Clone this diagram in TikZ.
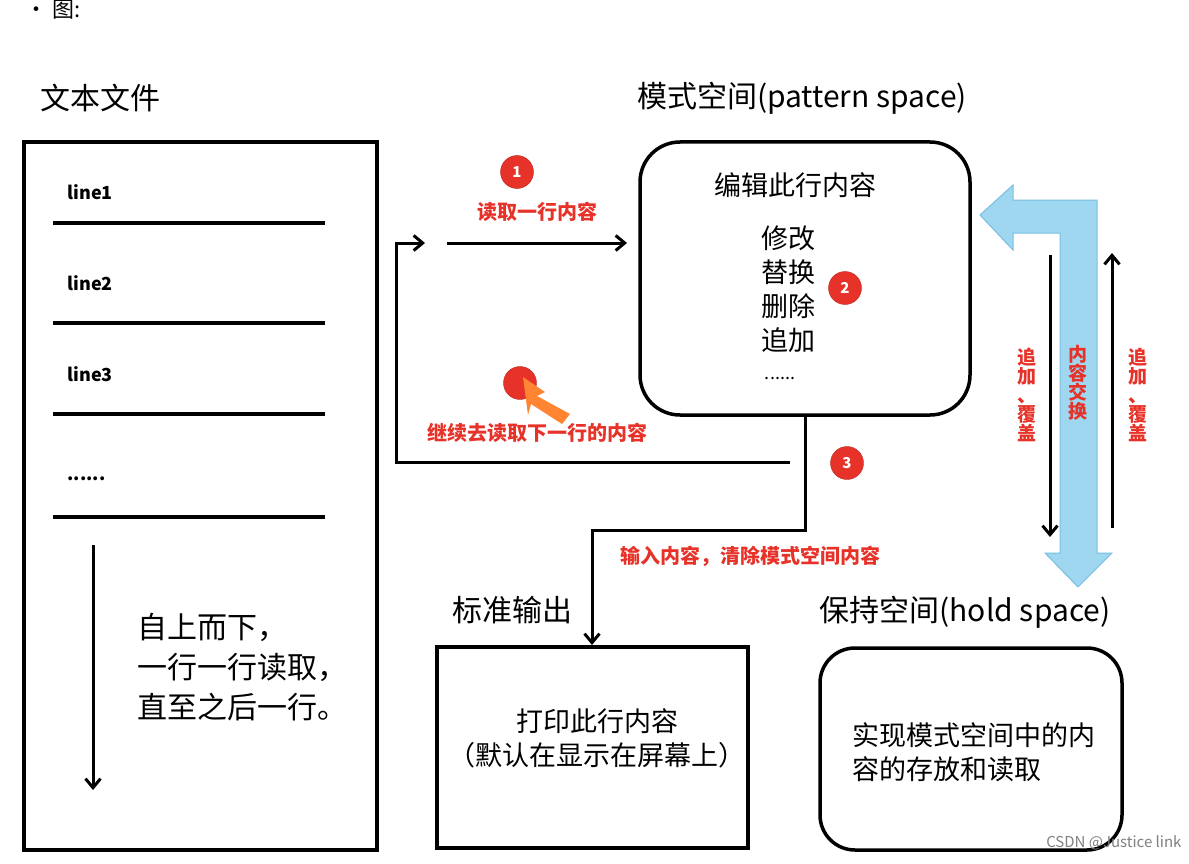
\documentclass[tikz,border=0pt]{standalone}
\usepackage{fontspec}
\setmainfont{Noto Sans CJK SC}
\usetikzlibrary{arrows.meta}
\definecolor{rd}{RGB}{230,50,40}
\definecolor{lb}{RGB}{160,215,240}
\definecolor{lbd}{RGB}{120,190,225}
\tikzset{
 blk/.style={line width=3.5pt},
 arr/.style={line width=3pt,-{Straight Barb[length=9pt,width=15pt]}},
 num/.style={circle,fill=rd,draw=rd!80!black,minimum size=33pt,inner sep=0pt,text=white,font=\fontsize{15}{15}\selectfont\bfseries},
 rtxt/.style={text=rd,font=\fontsize{20}{22}\selectfont\bfseries},
 vtxt/.style={text=rd,align=center,font=\fontsize{19}{19}\selectfont\bfseries},
 big/.style={font=\fontsize{30}{40}\selectfont},
 mid/.style={font=\fontsize{27}{34}\selectfont},
 ln/.style={font=\fontsize{18}{18}\selectfont\bfseries},
}
\begin{document}
\begin{tikzpicture}[x=1pt,y=-1pt]
\useasboundingbox (0,0) rectangle (1189,864);
\node[anchor=west,font=\fontsize{22}{22}\selectfont] (bul) at (22,10) {• 图:};
% left
\node[big] (t1) at (100,98) {文本文件};
\draw[blk] (24,142) rectangle (377,850);
\node[ln,anchor=west] (l1) at (64,192) {line1};
\node[ln,anchor=west] (l2) at (64,283) {line2};
\node[ln,anchor=west] (l3) at (64,374) {line3};
\node[ln,anchor=west] (l4) at (64,479) {......};
\foreach \y in {223,323,414,517} \draw[blk] (53,\y) -- (325,\y);
\coordinate (da) at (93,545); \coordinate (db) at (93,790);
\draw[arr] (da) -- (db);
\node[big,anchor=north west,align=left] (desc) at (134,610) {自上而下，\\一行一行读取，\\直至之后一行。};
% pattern
\node[big] (t2) at (802,98) {模式空间(pattern space)};
\draw[blk,rounded corners=40pt] (640,142) rectangle (970,415);
\node[mid] (ed) at (795,185) {编辑此行内容};
\node[mid,align=center] (ops) at (788,289) {修改\\替换\\删除\\追加};
\node[font=\fontsize{18}{18}\selectfont] (dots) at (780,378) {......};
\node[num] (n2) at (845,288) {2};
% read arrow
\node[num] (n1) at (517,172) {1};
\node[rtxt] (r1) at (537,212) {读取一行内容};
\coordinate (a1) at (447,243); \coordinate (a2) at (627,243);
\draw[arr] (a1) -- (a2);
\coordinate (lp0) at (790,462); \coordinate (lp1) at (396,462); \coordinate (lp2) at (396,243); \coordinate (lp3) at (425,243);
\draw[arr] (lp0) -- (lp1) -- (lp2) -- (lp3);
\node[num] (n4) at (520,383) {};
\fill[orange!80!red!80] (523,377) -- (545,392) -- (537,396) -- (570,414) -- (562,424) -- (531,404) -- (528,415) -- cycle;
\node[rtxt] (r4) at (537,433) {继续去读取下一行的内容};
\node[num] (n3) at (847,463) {3};
\coordinate (o0) at (805,415); \coordinate (o1) at (805,530); \coordinate (o2) at (592,530); \coordinate (o3) at (592,645);
\draw[arr] (o0) -- (o1) -- (o2) -- (o3);
\node[rtxt] (r3) at (750,556) {输入内容，清除模式空间内容};
% output
\node[big] (t3) at (512,610) {标准输出};
\draw[blk] (437,647) rectangle (748,848);
\node[mid,align=center] (pr) at (597,738) {打印此行内容\\（默认在显示在屏幕上）};
% hold
\node[big] (t4) at (965,612) {保持空间(hold space)};
\draw[blk,rounded corners=35pt] (820,648) rectangle (1122,850);
\node[mid,align=left,anchor=west] (hd) at (849,752) {实现模式空间中的内\\容的存放和读取};
% blue arrow
\draw[lbd,fill=lb,line width=1pt] (980,215) -- (1013,185) -- (1013,200) -- (1097,200) -- (1097,553) -- (1112,553) -- (1078,587) -- (1045,553) -- (1060,553) -- (1060,233) -- (1013,233) -- (1013,250) -- cycle;
\coordinate (d1) at (1050,255); \coordinate (d2) at (1050,537);
\draw[arr] (d1) -- (d2);
\coordinate (u1) at (1112,528); \coordinate (u2) at (1112,253);
\draw[arr] (u1) -- (u2);
\node[vtxt] (v1) at (1027,395) {追\\加\\、\\覆\\盖};
\node[vtxt] (v2) at (1078,383) {内\\容\\交\\换};
\node[vtxt] (v3) at (1138,395) {追\\加\\、\\覆\\盖};
\node[text=gray,font=\fontsize{15}{15}\selectfont,anchor=east] (wm) at (1185,843) {CSDN @Justice link};
\end{tikzpicture}
\end{document}
